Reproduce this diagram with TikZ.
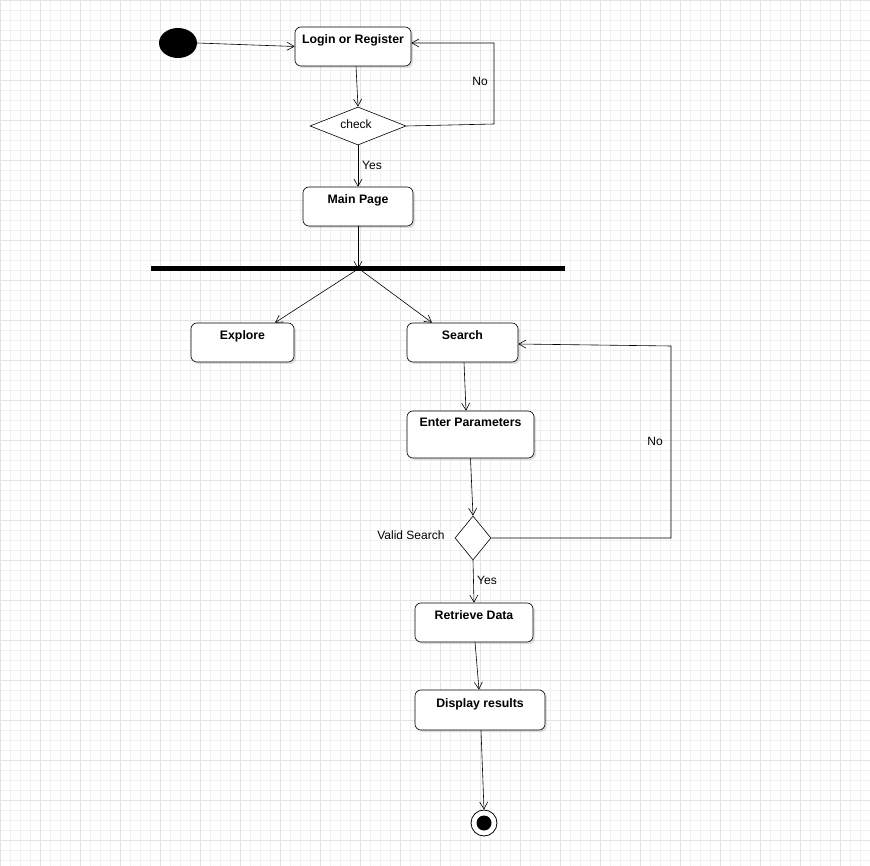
\documentclass[tikz,border=0pt]{standalone}
\usepackage{fontspec}
\setmainfont{Liberation Sans}
\usetikzlibrary{arrows.meta,shapes.geometric,shadows}
\begin{document}
\begin{tikzpicture}[x=1pt,y=-1pt,
  act/.style={draw,rounded corners=6pt,fill=white,line width=0.6pt,
    drop shadow={shadow xshift=2pt,shadow yshift=-2pt,opacity=0.25}},
  dec/.style={draw,diamond,fill=white,line width=0.6pt,inner sep=0pt},
  flow/.style={-{Straight Barb[length=7pt,width=8pt]},line width=0.6pt},
  lbl/.style={font=\fontsize{12}{13}\selectfont},
  ttl/.style={font=\fontsize{12.3}{13}\selectfont\bfseries}]
\useasboundingbox (0,0) rectangle (870,866);
\fill[white] (0,0) rectangle (870,866);
\foreach \i in {0,10,...,870} {\draw[black!6,line width=0.4pt] (\i,0) -- (\i,866);}
\foreach \i in {0,10,...,866} {\draw[black!6,line width=0.4pt] (0,\i) -- (870,\i);}
\foreach \i in {0,40,...,870} {\draw[black!11,line width=0.4pt] (\i,0) -- (\i,866);}
\foreach \i in {0,40,...,866} {\draw[black!11,line width=0.4pt] (0,\i) -- (870,\i);}
% nodes
\node[ellipse,fill=black,minimum width=38,minimum height=30,inner sep=0] (start) at (178,43) {};
\node[act,minimum width=116,minimum height=39] (login) at (353,46.5) {};
\node[ttl,anchor=north] (loginT) at (353,31) {Login or Register};
\node[dec,minimum width=96,minimum height=38] (check) at (358,126) {};
\node[lbl] (checkT) at (356,124) {check};
\node[act,minimum width=110,minimum height=39] (main) at (358,206.5) {};
\node[ttl,anchor=north] (mainT) at (358,191) {Main Page};
\coordinate (barL) at (151,269);
\coordinate (barR) at (565,269);
\draw[line width=5pt] (barL) -- (barR);
\node[act,minimum width=103,minimum height=39] (explore) at (242.5,342.5) {};
\node[ttl,anchor=north] (exploreT) at (242.5,327) {Explore};
\node[act,minimum width=111,minimum height=39] (search) at (462.5,342.5) {};
\node[ttl,anchor=north] (searchT) at (462.5,327) {Search};
\node[act,minimum width=127,minimum height=47] (enter) at (470.5,434.5) {};
\node[ttl,anchor=north] (enterT) at (470.5,415) {Enter Parameters};
\node[dec,minimum width=36,minimum height=44] (valid) at (473,538) {};
\node[lbl,anchor=east] (validT) at (448,535) {Valid Search};
\node[act,minimum width=118,minimum height=39] (retr) at (474,622.5) {};
\node[ttl,anchor=north] (retrT) at (474,607) {Retrieve Data};
\node[act,minimum width=130,minimum height=40] (disp) at (480,710) {};
\node[ttl,anchor=north] (dispT) at (480,695) {Display results};
\node[circle,draw,line width=0.8pt,minimum size=26,inner sep=0,fill=white] (endO) at (484,823) {};
\node[circle,fill=black,minimum size=15,inner sep=0] (endI) at (484,823) {};
% connectors
\draw[flow] (start.east) -- (login.west);
\draw[flow] (login.south) ++(3,0) coordinate (a1) -- (check.north);
\draw[flow] (check.east) -- (494,124) -- (494,43) -- (login.east |- 0,43);
\node[lbl] (no1) at (480,81) {No};
\draw[flow] (check.south) -- (main.north);
\node[lbl] (yes1) at (372,165) {Yes};
\draw[flow] (main.south) -- (358,269);
\draw[flow] (355,271) -- (explore.north -| 275,0);
\draw[flow] (362,271) -- (search.north -| 432,0);
\draw[flow] (search.south -| 464,0) -- (enter.north -| 466,0);
\draw[flow] (enter.south) -- (valid.north);
\draw[flow] (valid.east) -- (671,538) -- (671,346) -- (search.east |- 0,344);
\node[lbl] (no2) at (655,441) {No};
\draw[flow] (valid.south) -- (retr.north);
\node[lbl] (yes2) at (487,580) {Yes};
\draw[flow] (retr.south |- 0,642) ++(1,0) -- (disp.north -| 479,0);
\draw[flow] (disp.south -| 481,0) -- (endO.north);
\end{tikzpicture}
\end{document}
